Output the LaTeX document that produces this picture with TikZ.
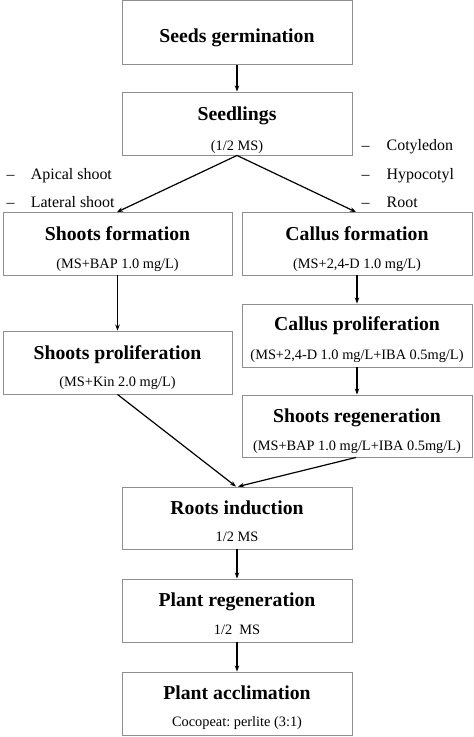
\documentclass[tikz,border=0pt]{standalone}
\usepackage{fontspec}
\setmainfont{Liberation Serif}
\usetikzlibrary{arrows.meta,calc}
\definecolor{boxgray}{HTML}{8E8E8E}
\tikzset{
  box/.style={draw=boxgray, line width=0.9bp, fill=white, rectangle, inner sep=0pt},
  ttl/.style={anchor=base, inner sep=0pt, font=\fontsize{19.8}{22}\selectfont\bfseries},
  sub/.style={anchor=base, inner sep=0pt, font=\fontsize{14.4}{16}\selectfont},
  ann/.style={anchor=base west, inner sep=0pt, font=\fontsize{16}{18}\selectfont},
  arr/.style={line width=1.2bp, -{Stealth[length=6bp,width=4.5bp]}}
}
\begin{document}
\begin{tikzpicture}[x=1bp,y=-1bp]
\useasboundingbox (0,0) rectangle (474,737);
\fill[white] (0,0) rectangle (474,737);
% boxes
\node[box, minimum width=230bp, minimum height=63.5bp] (sg) at (237,32.3) {};
\node[box, minimum width=230bp, minimum height=63bp] (sd) at (237,123.5) {};
\node[box, minimum width=229bp, minimum height=62.5bp] (sf) at (117.5,243.75) {};
\node[box, minimum width=230bp, minimum height=62.5bp] (cf) at (357,243.75) {};
\node[box, minimum width=229bp, minimum height=63bp] (sp) at (117.5,362.5) {};
\node[box, minimum width=230bp, minimum height=63bp] (cp) at (357,335.5) {};
\node[box, minimum width=230bp, minimum height=62bp] (sr) at (357,426) {};
\node[box, minimum width=230bp, minimum height=62bp] (ri) at (237,518) {};
\node[box, minimum width=230bp, minimum height=63bp] (pr) at (237,610.5) {};
\node[box, minimum width=230bp, minimum height=63bp] (pa) at (237,703.5) {};
% texts
\node[ttl] (sgt) at (237,42.5) {Seeds germination};
\node[ttl] (sdt) at (237,120.5) {Seedlings};
\node[sub] (sds) at (237,150) {(1/2 MS)};
\node[ttl] (sft) at (117.5,240.5) {Shoots formation};
\node[sub] (sfs) at (117.5,268) {(MS+BAP 1.0 mg/L)};
\node[ttl] (cft) at (357,240.5) {Callus formation};
\node[sub] (cfs) at (357,268) {(MS+2,4-D 1.0 mg/L)};
\node[ttl] (spt) at (117.5,359) {Shoots proliferation};
\node[sub] (sps) at (117.5,386.7) {(MS+Kin 2.0 mg/L)};
\node[ttl] (cpt) at (357,330.7) {Callus proliferation};
\node[sub] (cps) at (357,359) {(MS+2,4-D 1.0 mg/L+IBA 0.5mg/L)};
\node[ttl] (srt) at (357,422.7) {Shoots regeneration};
\node[sub] (srs) at (357,450.7) {(MS+BAP 1.0 mg/L+IBA 0.5mg/L)};
\node[ttl] (rit) at (237,514.3) {Roots induction};
\node[sub] (ris) at (237,541.7) {1/2 MS};
\node[ttl] (prt) at (237,606.7) {Plant regeneration};
\node[sub] (prs) at (237,634.3) {1/2\ \ MS};
\node[ttl] (pat) at (237,699.3) {Plant acclimation};
\node[sub] (pas) at (237,726.7) {Cocopeat:\ perlite (3:1)};
% annotations
\node[ann] (d1) at (6.5,179.3) {–};
\node[ann] (a1) at (30.7,179.3) {Apical shoot};
\node[ann] (d2) at (6.5,207.3) {–};
\node[ann] (a2) at (30.7,207.3) {Lateral shoot};
\node[ann] (d3) at (361.5,150.7) {–};
\node[ann] (a3) at (386.5,150.7) {Cotyledon};
\node[ann] (d4) at (361.5,179.3) {–};
\node[ann] (a4) at (386.5,179.3) {Hypocotyl};
\node[ann] (d5) at (361.5,207.3) {–};
\node[ann] (a5) at (386.5,207.3) {Root};
% arrows
\draw[arr] (sg.south) -- (sd.north);
\draw[arr] (sd.south) -- ($(sf.north)+(-0.5,0)$);
\draw[arr] (sd.south) -- ($(cf.north)+(-1,0)$);
\draw[arr] (sf.south) -- (sp.north);
\draw[arr] (cf.south) -- (cp.north);
\draw[arr] (cp.south) -- (sr.north);
\draw[arr] (sp.south) -- ($(ri.north)+(-1,0)$);
\draw[arr] ($(sr.south)+(-1,0)$) -- ($(ri.north)+(1,0)$);
\draw[arr] (ri.south) -- (pr.north);
\draw[arr] (pr.south) -- (pa.north);
\end{tikzpicture}
\end{document}
